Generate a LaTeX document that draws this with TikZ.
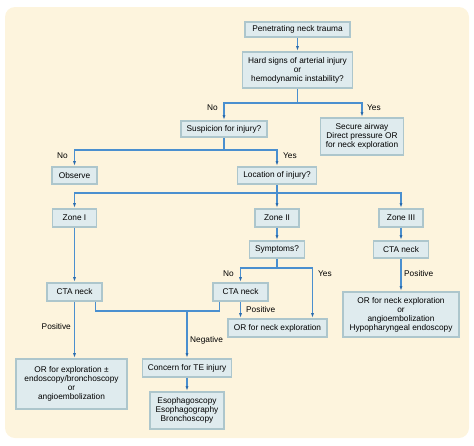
\documentclass[tikz,border=0pt]{standalone}
\usepackage{fontspec}
\setmainfont{Liberation Sans}
\usetikzlibrary{arrows.meta}
\definecolor{bgcream}{HTML}{FDF4DD}
\definecolor{boxfill}{HTML}{DFEBEE}
\definecolor{boxedge}{HTML}{ADC6CC}
\definecolor{flowblue}{HTML}{4A8FCF}
\definecolor{tipblue}{HTML}{2B6CAE}
\begin{document}
\begin{tikzpicture}[x=1pt,y=-1pt,font=\fontsize{8.3}{9}\selectfont,
  box/.style={fill=boxfill,draw=boxedge,line width=1.7pt,align=center,inner sep=0pt},
  flow/.style={draw=flowblue,line width=1.3pt},
  arr/.style={flow,-{Latex[length=5pt,width=3pt,color=tipblue]}},
  lbl/.style={inner sep=1pt}]
\useasboundingbox (0,0) rectangle (474,445);
\path[fill=bgcream,rounded corners=10pt] (5,7) rectangle (469,438);
% boxes
\node[box,minimum width=105pt,minimum height=15pt] (trauma) at (297.5,29.5) {Penetrating neck trauma};
\node[box,minimum width=110pt,minimum height=36pt] (hard) at (297.5,70) {Hard signs of arterial injury\\or\\hemodynamic instability?};
\node[box,minimum width=86pt,minimum height=16pt] (suspicion) at (224,129) {Suspicion for injury?};
\node[box,minimum width=83pt,minimum height=37pt] (secure) at (362,136.5) {Secure airway\\Direct pressure OR\\for neck exploration};
\node[box,minimum width=45pt,minimum height=17pt] (observe) at (74.5,175.5) {Observe};
\node[box,minimum width=79pt,minimum height=17pt] (location) at (277,175.5) {Location of injury?};
\node[box,minimum width=44pt,minimum height=18pt] (zone1) at (74.5,218) {Zone I};
\node[box,minimum width=44pt,minimum height=18pt] (zone2) at (277,218) {Zone II};
\node[box,minimum width=44pt,minimum height=18pt] (zone3) at (401,218) {Zone III};
\node[box,minimum width=55pt,minimum height=17pt] (symptoms) at (277,249.5) {Symptoms?};
\node[box,minimum width=55pt,minimum height=17pt] (cta3) at (401,249.5) {CTA neck};
\node[box,minimum width=55pt,minimum height=18pt] (cta1) at (74.5,292) {CTA neck};
\node[box,minimum width=55pt,minimum height=18pt] (cta2) at (240.5,292) {CTA neck};
\node[box,minimum width=99pt,minimum height=18pt] (orneck) at (277.5,328) {OR for neck exploration};
\node[box,minimum width=116pt,minimum height=45pt] (or3) at (401,314.5) {OR for neck exploration\\or\\angioembolization\\Hypopharyngeal endoscopy};
\node[box,minimum width=111pt,minimum height=50pt] (or1) at (71.5,384) {OR for exploration ±\\endoscopy/bronchoscopy\\or\\angioembolization};
\node[box,minimum width=89pt,minimum height=18pt] (concern) at (187,368) {Concern for TE injury};
\node[box,minimum width=74pt,minimum height=37pt] (esoph) at (187,410.5) {Esophagoscopy\\Esophagography\\Bronchoscopy};
% connectors
\coordinate (hardsplit) at (297.5,103);
\coordinate (suspsplit) at (224,150);
\coordinate (locsplit) at (277,193);
\coordinate (symsplit) at (277,268);
\coordinate (negsplit) at (187,311);
\draw[arr] (trauma) -- (hard);
\draw[flow] (hard.south) -- (hardsplit);
\draw[arr] (hardsplit) -| (suspicion.north);
\draw[arr] (hardsplit) -| (secure.north);
\draw[flow] (suspicion.south) -- (suspsplit);
\draw[arr] (suspsplit) -| (observe.north);
\draw[arr] (suspsplit) -| (location.north);
\draw[flow] (location.south) -- (locsplit);
\draw[arr] (locsplit) -| (zone1.north);
\draw[arr] (locsplit) -- (zone2.north);
\draw[arr] (locsplit) -| (zone3.north);
\draw[arr] (zone1) -- (cta1);
\draw[arr] (zone2) -- (symptoms);
\draw[arr] (zone3) -- (cta3);
\draw[flow] (symptoms.south) -- (symsplit);
\draw[arr] (symsplit) -| (cta2.north);
\draw[arr] (symsplit) -| ([xshift=35pt]orneck.north);
\draw[arr] (cta2.south) -- (cta2.south |- orneck.north);
\draw[arr] (cta3) -- (or3);
\draw[arr] (cta1.south) -- (cta1.south |- or1.north);
\draw[flow] ([xshift=21pt]cta1.south) |- (negsplit) -| ([xshift=-21pt]cta2.south);
\draw[arr] (negsplit) -- (concern.north);
\draw[arr] (concern) -- (esoph);
% labels
\node[lbl,anchor=east] (nohard) at (219,108) {No};
\node[lbl,anchor=west] (yeshard) at (366,108) {Yes};
\node[lbl,anchor=east] (nosusp) at (69,156) {No};
\node[lbl,anchor=west] (yessusp) at (282,156) {Yes};
\node[lbl,anchor=east] (nosym) at (235,274) {No};
\node[lbl,anchor=west] (yessym) at (317,274) {Yes};
\node[lbl,anchor=west] (poszone3) at (403,274) {Positive};
\node[lbl,anchor=west] (poszone2) at (245,310) {Positive};
\node[lbl,anchor=east] (poszone1) at (72,327) {Positive};
\node[lbl,anchor=west] (negative) at (189,340) {Negative};
\end{tikzpicture}
\end{document}
